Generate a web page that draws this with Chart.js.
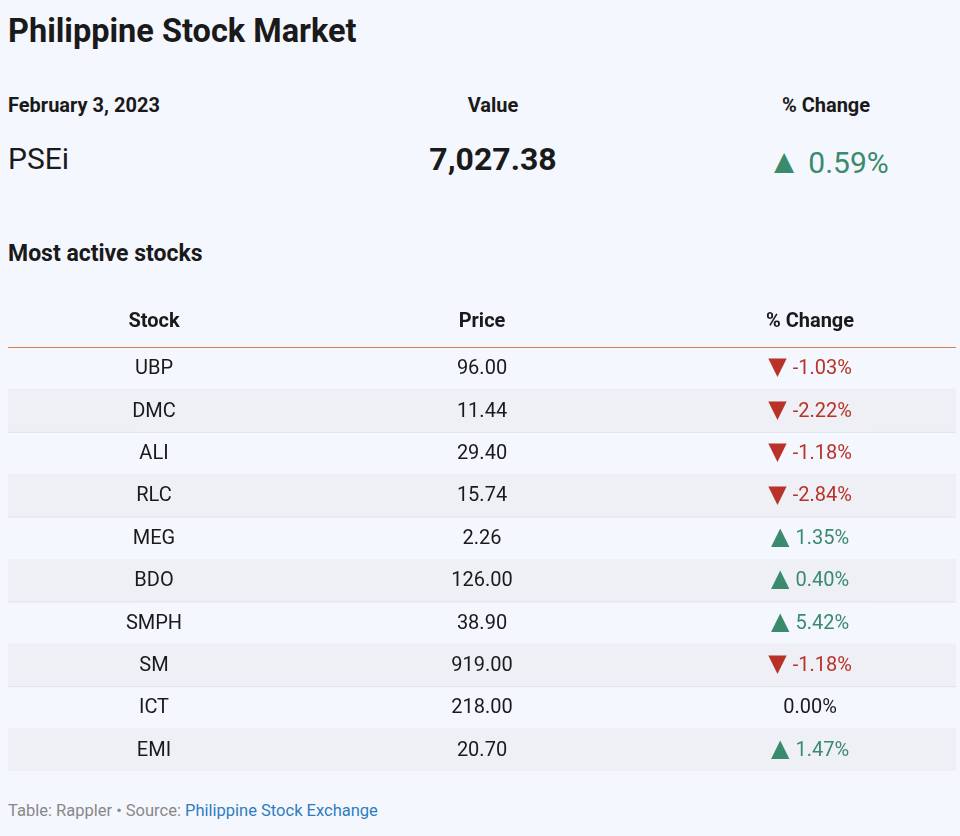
<!DOCTYPE html>
<html><head><meta charset="utf-8">
<script src="https://cdn.jsdelivr.net/npm/chart.js@4"></script>
<style>
body{margin:0;background:#f5f7fe;font-family:Roboto,sans-serif;color:#1a1a1a;width:960px;height:836px;position:relative;overflow:hidden}
.a{position:absolute;white-space:nowrap}
</style></head><body>
<div class="a" style="left:8px;top:12px;font-size:32.5px;font-weight:700">Philippine Stock Market</div>
<div class="a" style="left:8px;top:93px;font-size:20px;font-weight:700">February 3, 2023</div>
<div class="a" style="left:493px;top:93px;font-size:20px;font-weight:700;transform:translateX(-50%)">Value</div>
<div class="a" style="left:826px;top:93px;font-size:20px;font-weight:700;transform:translateX(-50%)">% Change</div>
<div class="a" style="left:8px;top:141px;font-size:30px">PSEi</div>
<div class="a" style="left:493px;top:140px;font-size:32px;font-weight:700;transform:translateX(-50%)">7,027.38</div>
<div class="a" style="left:828px;top:141px;font-size:30px;color:#3a8a6e;transform:translateX(-50%)"><span style="font-size:34px">▲</span> 0.59%</div>
<div class="a" style="left:8px;top:240px;font-size:23px;font-weight:700">Most active stocks</div>
<div class="a" style="left:8px;top:300px;width:948px;height:471px"><canvas id="c"></canvas></div>
<div class="a" style="left:8px;top:801px;font-size:16.5px;color:#888">Table: Rappler • Source: <span style="color:#2e7dc1">Philippine Stock Exchange</span></div>
<script>
const headers=["Stock","Price","% Change"];
const stocks=["UBP","DMC","ALI","RLC","MEG","BDO","SMPH","SM","ICT","EMI"];
const prices=["96.00","11.44","29.40","15.74","2.26","126.00","38.90","919.00","218.00","20.70"];
const changes=[-1.03,-2.22,-1.18,-2.84,1.35,0.40,5.42,-1.18,0.00,1.47];
const colX=[0.462,1.5,2.538];
const tablePlugin={id:'tbl',beforeDatasetsDraw(ch){
  const ctx=ch.ctx,y=ch.scales.y,x=ch.scales.x,a=ch.chartArea;
  const h=(a.bottom-a.top)/stocks.length;
  ctx.save();
  stocks.forEach((s,i)=>{const cy=y.getPixelForValue(i);
    if(i%2==1){ctx.fillStyle='#eef0f6';ctx.fillRect(a.left,cy-h/2,a.right-a.left,h);}
    ctx.strokeStyle='#dfe1e8';ctx.lineWidth=1;ctx.beginPath();ctx.moveTo(a.left,cy+h/2+.5);ctx.lineTo(a.right,cy+h/2+.5);ctx.stroke();
  });
  ctx.textAlign='center';ctx.textBaseline='middle';
  ctx.font='bold 20px Roboto';ctx.fillStyle='#1a1a1a';
  headers.forEach((t,j)=>ctx.fillText(t,x.getPixelForValue(colX[j]),a.top-25));
  ctx.strokeStyle='#d2804e';ctx.beginPath();ctx.moveTo(a.left,a.top+.5);ctx.lineTo(a.right,a.top+.5);ctx.stroke();
  stocks.forEach((s,i)=>{const cy=y.getPixelForValue(i)+1;
    ctx.font='20px Roboto';ctx.textAlign='center';
    ctx.fillStyle='#1a1a1a';
    ctx.fillText(s,x.getPixelForValue(colX[0]),cy);
    ctx.fillText(prices[i],x.getPixelForValue(colX[1]),cy);
    const c=changes[i];const t=c.toFixed(2)+'%';const cx=x.getPixelForValue(colX[2]);
    if(c===0){ctx.fillText(t,cx,cy);return;}
    ctx.fillStyle=c>0?'#3a8a6e':'#b83228';
    const tw=ctx.measureText(t).width;ctx.font='24px DejaVu Sans';const aw=ctx.measureText('▲').width;
    const total=aw+6+tw;const x0=cx-total/2;
    ctx.textAlign='left';
    ctx.fillText(c>0?'▲':'▼',x0,cy-1);
    ctx.font='20px Roboto';ctx.fillText(t,x0+aw+6,cy);
  });
  ctx.restore();}};
new Chart(document.getElementById('c'),{type:'scatter',
 data:{labels:stocks,datasets:[{data:[]}]},
 options:{responsive:true,maintainAspectRatio:false,animation:false,
  layout:{padding:{top:47,left:0,right:0,bottom:0}},
  plugins:{legend:{display:false},tooltip:{enabled:false}},
  scales:{x:{type:'linear',min:0,max:3,display:false},
          y:{type:'category',labels:stocks,offset:true,display:false}}},
 plugins:[tablePlugin]});
</script></body></html>
